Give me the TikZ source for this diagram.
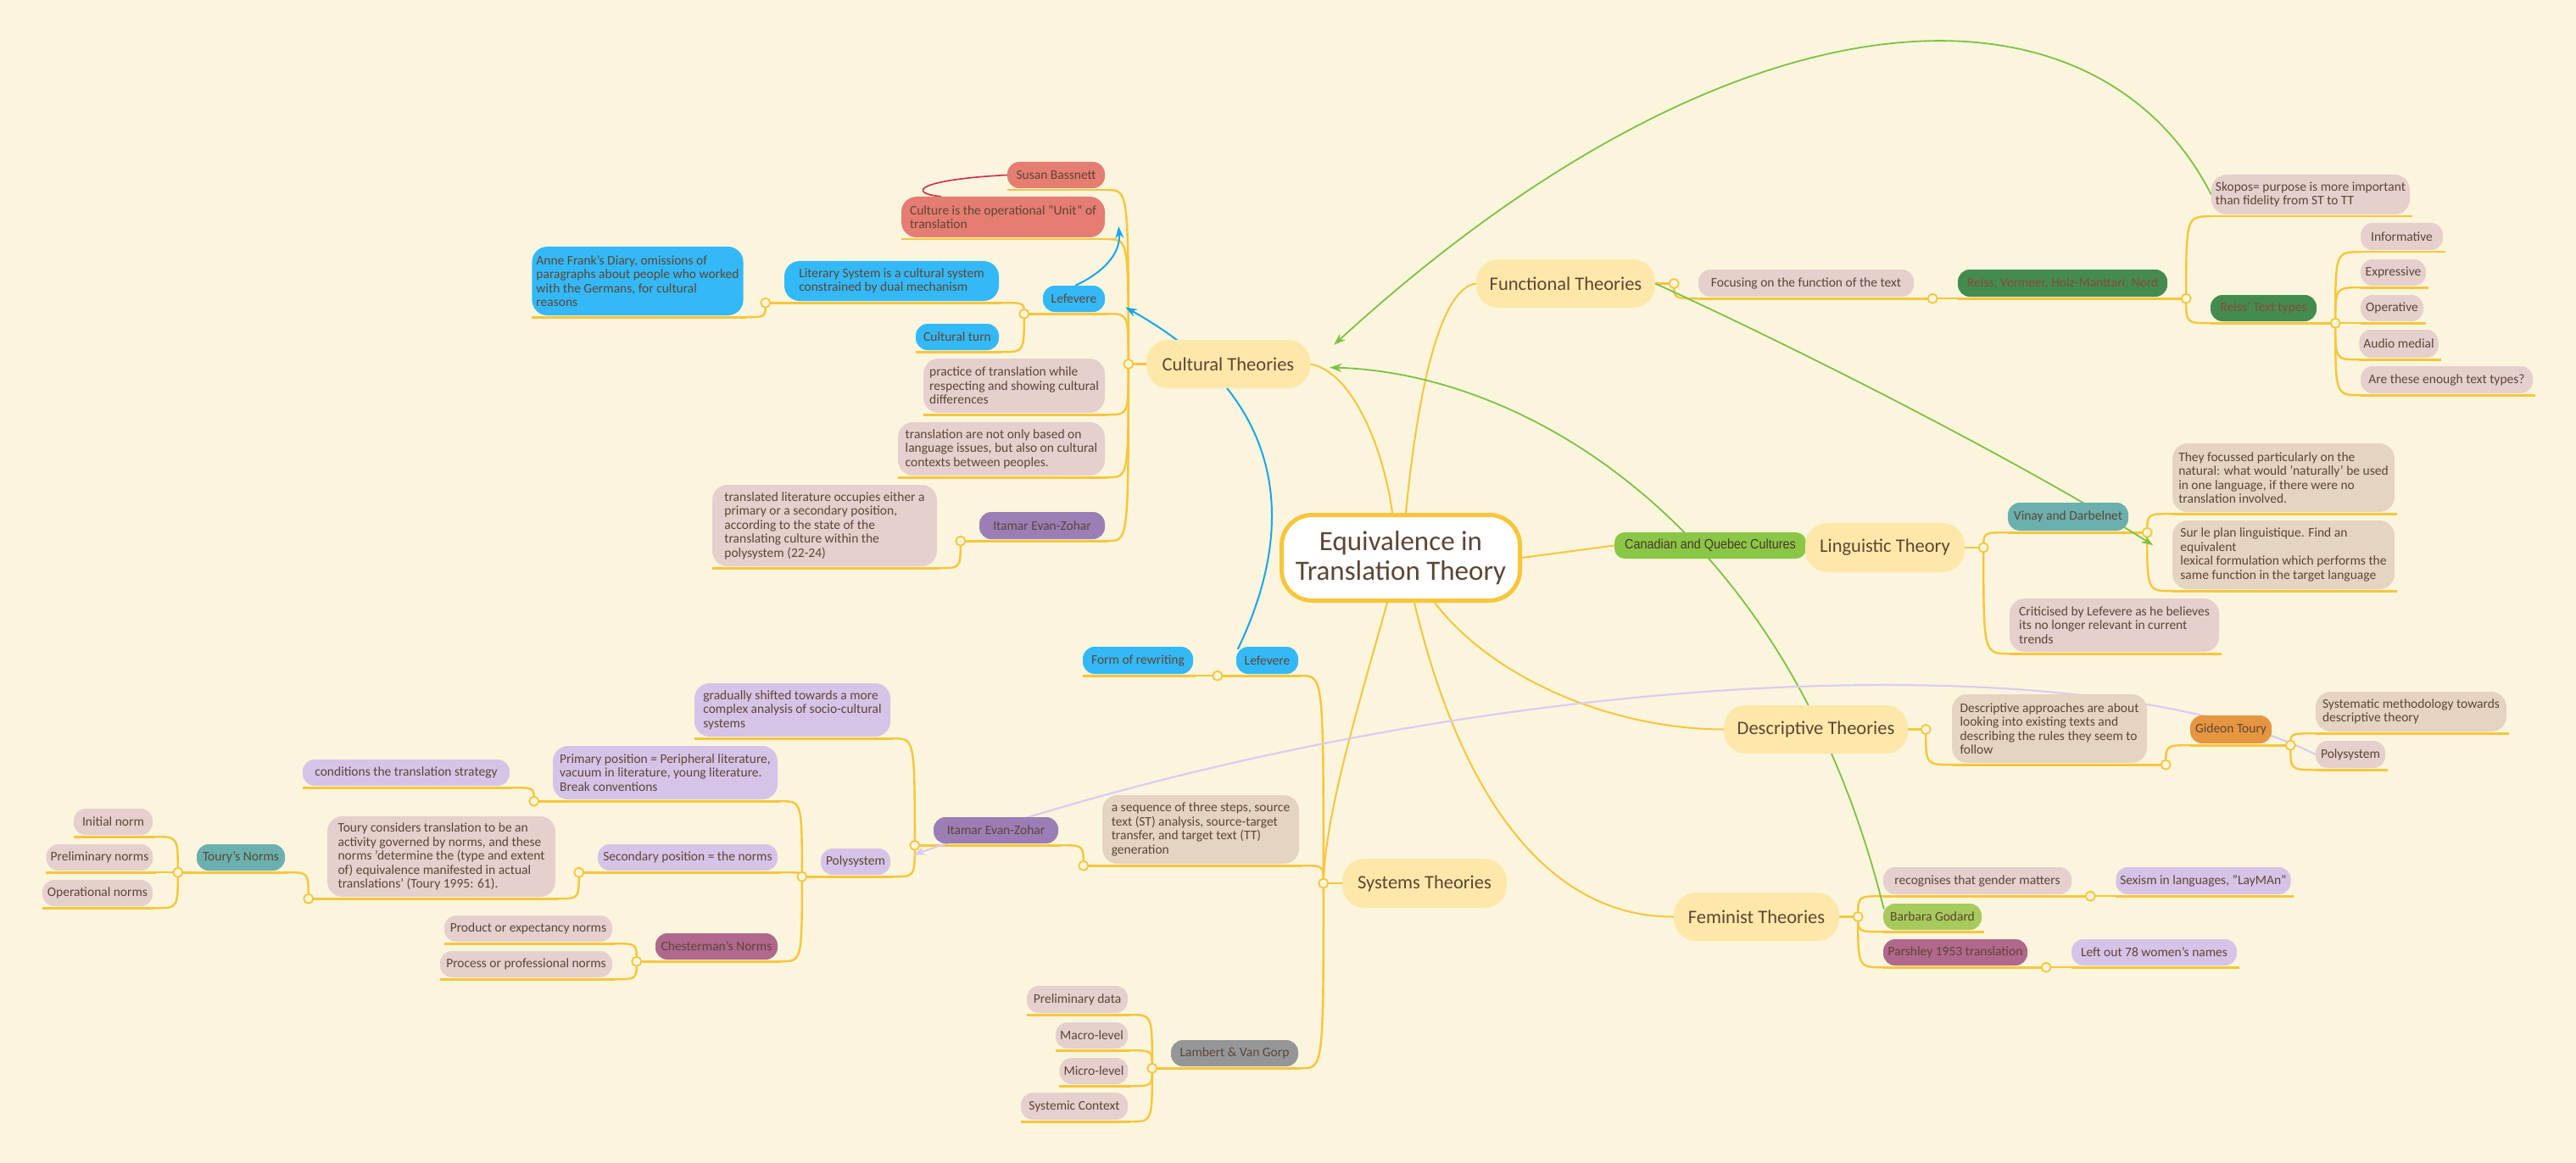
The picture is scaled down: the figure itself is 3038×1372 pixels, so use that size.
\documentclass[tikz,border=0pt]{standalone}
\usepackage{fontspec}
\setmainfont{Carlito}
\newfontfamily\cfont{Liberation Sans}[FakeStretch=0.9]
\usetikzlibrary{calc,arrows.meta}
\definecolor{bgc}{HTML}{FBF5DD}
\definecolor{ora}{HTML}{F9C53A}
\definecolor{mainY}{HTML}{FEE8A9}
\definecolor{pinkS}{HTML}{E5D0CE}
\definecolor{tanS}{HTML}{E5D4C2}
\definecolor{lavS}{HTML}{D6C4E8}
\definecolor{blueS}{HTML}{33B9F7}
\definecolor{purpS}{HTML}{9B7EB6}
\definecolor{salS}{HTML}{E57D72}
\definecolor{dgreen}{HTML}{448B50}
\definecolor{tealS}{HTML}{6AB0AE}
\definecolor{oranS}{HTML}{E69641}
\definecolor{greyS}{HTML}{949799}
\definecolor{mauveS}{HTML}{B0688C}
\definecolor{lgreen}{HTML}{A6CA5C}
\definecolor{cgreen}{HTML}{8BC746}
\definecolor{txtc}{HTML}{5E4534}
\definecolor{redtxt}{HTML}{8A4A3C}
\definecolor{relG}{HTML}{7CC242}
\definecolor{relB}{HTML}{1BA4EA}
\definecolor{relL}{HTML}{DBCCF2}
\definecolor{relR}{HTML}{D3284A}
\pgfdeclarelayer{background}
\pgfdeclarelayer{edges}
\pgfsetlayers{background,edges,main}
\tikzset{
 sub/.style={rectangle, inner xsep=5pt, inner ysep=3pt, font=\fontsize{15.5}{16.5}\selectfont, align=left, text=txtc},
 sbox/.style={sub, fill=#1, rounded corners=14pt},
 mbox/.style={sub, fill=#1, rounded corners=18pt},
 topic/.style={rectangle, fill=mainY, rounded corners=26pt, font=\fontsize{22.5}{26}\selectfont, text=txtc},
 canbox/.style={rectangle, fill=cgreen, rounded corners=12pt, font=\cfont\fontsize{16}{18}\selectfont, text=txtc!80!black},
 hubc/.style={circle, draw=ora, line width=1.8pt, fill=bgc, minimum size=11pt, inner sep=0pt},
 ulin/.style={draw=ora, line width=2.6pt},
 br/.style={draw=ora, line width=2.4pt},
 mainbr/.style={draw=ora, line width=2pt},
 relg/.style={draw=relG, line width=1.8pt, -{Stealth[length=14pt,width=10pt]}},
 relb/.style={draw=relB, line width=2pt, -{Stealth[length=14pt,width=10pt]}},
 rell/.style={draw=relL, line width=2.2pt, -{Stealth[length=14pt,width=10pt]}},
 relr/.style={draw=relR, line width=1.6pt}
}
\newcommand\mmnode[7]{%
 \pgfmathsetmacro\mmW{#4-#2}%
 \pgfmathsetmacro\mmH{#5-#3}%
 \pgfmathsetmacro\mmX{(#2+#4)/2}%
 \pgfmathsetmacro\mmY{(#3+#5)/2}%
 \node[#6, minimum width=\mmW pt, minimum height=\mmH pt] (#1) at (\mmX,\mmY) {#7};
 \coordinate (#1UR) at ($(#1.south east)+(3pt,-2pt)$);
 \coordinate (#1UL) at ($(#1.south west)+(0pt,-2pt)$);
}
\newcommand\mmhubL[1]{\node[hubc] (H#1) at ($(#1.south west)+(-22pt,-2pt)$) {};}
\newcommand\mmhubR[1]{\node[hubc] (H#1) at ($(#1.south east)+(22pt,-2pt)$) {};}
\newcommand\mmul[1]{\draw[ulin] (#1UL) -- (#1UR);}
\newcommand\mmlinkL[1]{\draw[ulin] (H#1.center) -- (#1UL);}
\newcommand\mmlinkR[1]{\draw[ulin] (#1UR) -- (H#1.center);}
\newcommand\brL[2]{\draw[br] (H#1.center) .. controls (H#1.center |- #2UR) .. (#2UR);}
\newcommand\brR[2]{\draw[br] (H#1.center) .. controls (H#1.center |- #2UL) .. (#2UL);}
\begin{document}
\begin{tikzpicture}[x=1pt,y=-1pt]
\begin{pgfonlayer}{background}
\fill[bgc] (0,0) rectangle (3038,1372);
\end{pgfonlayer}
\useasboundingbox (0,0) rectangle (3038,1372);

% central
\node[draw=ora, line width=5pt, fill=white, rounded corners=36pt, minimum width=281pt, minimum height=101pt, font=\fontsize{33}{35}\selectfont, align=center, text=txtc] (ctr) at (1652,658) {Equivalence in\\Translation Theory};

% main topics
\mmnode{cult}{1352}{401}{1545}{458}{topic}{Cultural Theories}
\mmnode{func}{1741}{306}{1952}{363}{topic}{Functional Theories}
\mmnode{canad}{1904}{628}{2130}{659}{canbox}{Canadian and Quebec Cultures}
\mmnode{ling}{2129}{617}{2317}{675}{topic}{Linguistic Theory}
\mmnode{desc}{2033}{832}{2250}{889}{topic}{Descriptive Theories}
\mmnode{fem}{1974}{1053}{2169}{1110}{topic}{Feminist Theories}
\mmnode{sys}{1583}{1013}{1777}{1071}{topic}{Systems Theories}

% cultural
\mmnode{susan}{1188}{191}{1303}{222}{sbox=salS}{Susan Bassnett}
\mmnode{culture}{1063}{232}{1303}{280}{mbox=salS}{Culture is the operational "Unit" of\\translation}
\mmnode{lefU}{1230}{337}{1303}{368}{sbox=blueS}{Lefevere}
\mmnode{literary}{925}{308}{1178}{355}{mbox=blueS}{Literary System is a cultural system\\constrained by dual mechanism}
\mmnode{anne}{630}{291}{874}{372}{mbox=blueS}{Anne Frank's Diary, omissions of\\paragraphs about people who worked\\with the Germans, for cultural\\reasons}
\mmnode{cturn}{1080}{382}{1178}{413}{sbox=blueS}{Cultural turn}
\mmnode{practice}{1089}{423}{1303}{487}{mbox=pinkS}{practice of translation while\\respecting and showing cultural\\differences}
\mmnode{transl}{1059}{498}{1303}{561}{mbox=pinkS}{translation are not only based on\\language issues, but also on cultural\\contexts between peoples.}
\mmnode{itamU}{1155}{604}{1303}{636}{sbox=purpS}{Itamar Evan-Zohar}
\mmnode{translit}{840}{572}{1105}{668}{mbox=pinkS}{translated literature occupies either a\\primary or a secondary position,\\according to the state of the\\translating culture within the\\polysystem (22-24)}

% functional
\mmnode{focus}{2003}{318}{2257}{350}{sbox=pinkS}{Focusing on the function of the text}
\mmnode{reiss}{2309}{318}{2556}{350}{sbox=dgreen, text=redtxt}{Reiss, Vermeer, Holz-Manttari, Nord}
\mmnode{skopos}{2609}{206}{2841}{253}{mbox=pinkS}{Skopos= purpose is more important\\than fidelity from ST to TT}
\mmnode{ttypes}{2607}{348}{2732}{379}{sbox=dgreen, text=redtxt}{Reiss' Text types}
\mmnode{inform}{2784}{263}{2881}{295}{sbox=pinkS}{Informative}
\mmnode{expr}{2784}{306}{2861}{337}{sbox=pinkS}{Expressive}
\mmnode{oper}{2784}{348}{2858}{379}{sbox=pinkS}{Operative}
\mmnode{audio}{2784}{389}{2874}{422}{sbox=pinkS}{Audio medial}
\mmnode{enough}{2784}{432}{2987}{464}{sbox=pinkS}{Are these enough text types?}

% linguistic
\mmnode{vinay}{2368}{593}{2510}{626}{sbox=tealS}{Vinay and Darbelnet}
\mmnode{natural}{2562}{523}{2824}{604}{mbox=tanS}{They focussed particularly on the\\natural: what would 'naturally' be used\\in one language, if there were no\\translation involved.}
\mmnode{surle}{2562}{614}{2824}{695}{mbox=tanS}{Sur le plan linguistique. Find an\\equivalent\\lexical formulation which performs the\\same function in the target language}
\mmnode{critic}{2370}{706}{2617}{769}{mbox=pinkS}{Criticised by Lefevere as he believes\\its no longer relevant in current\\trends}

% descriptive
\mmnode{descap}{2302}{819}{2532}{900}{mbox=tanS}{Descriptive approaches are about\\looking into existing texts and\\describing the rules they seem to\\follow}
\mmnode{gideon}{2583}{844}{2679}{877}{sbox=oranS}{Gideon Toury}
\mmnode{systm}{2731}{816}{2956}{863}{mbox=tanS}{Systematic methodology towards\\descriptive theory}
\mmnode{polyG}{2731}{874}{2813}{906}{sbox=pinkS}{Polysystem}

% feminist
\mmnode{recog}{2221}{1023}{2443}{1055}{sbox=pinkS}{recognises that gender matters}
\mmnode{sexism}{2496}{1023}{2701}{1055}{sbox=lavS}{Sexism in languages, "LayMAn"}
\mmnode{barbara}{2221}{1066}{2337}{1097}{sbox=lgreen}{Barbara Godard}
\mmnode{parsh}{2221}{1108}{2391}{1139}{sbox=mauveS}{Parshley 1953 translation}
\mmnode{leftout}{2443}{1108}{2638}{1139}{sbox=lavS}{Left out 78 women's names}

% systems
\mmnode{lefL}{1458}{763}{1531}{795}{sbox=blueS}{Lefevere}
\mmnode{rewrite}{1277}{763}{1407}{795}{sbox=blueS}{Form of rewriting}
\mmnode{seq}{1300}{938}{1532}{1019}{mbox=tanS}{a sequence of three steps, source\\text (ST) analysis, source-target\\transfer, and target text (TT)\\generation}
\mmnode{itamL}{1101}{964}{1248}{995}{sbox=purpS}{Itamar Evan-Zohar}
\mmnode{gradual}{819}{806}{1050}{869}{mbox=lavS}{gradually shifted towards a more\\complex analysis of socio-cultural\\systems}
\mmnode{polyS}{968}{1001}{1050}{1032}{sbox=lavS}{Polysystem}
\mmnode{primary}{652}{880}{917}{943}{mbox=lavS}{Primary position = Peripheral literature,\\vacuum in literature, young literature.\\Break conventions}
\mmnode{cond}{357}{896}{601}{927}{sbox=lavS}{conditions the translation strategy}
\mmnode{second}{705}{996}{917}{1027}{sbox=lavS}{Secondary position = the norms}
\mmnode{toury}{386}{963}{655}{1058}{mbox=pinkS}{Toury considers translation to be an\\activity governed by norms, and these\\norms 'determine the (type and extent\\of) equivalence manifested in actual\\translations' (Toury 1995: 61).}
\mmnode{tnorms}{232}{996}{336}{1027}{sbox=tealS}{Toury's Norms}
\mmnode{initial}{87}{954}{180}{985}{sbox=pinkS}{Initial norm}
\mmnode{prelim}{55}{996}{180}{1027}{sbox=pinkS}{Preliminary norms}
\mmnode{operat}{50}{1038}{180}{1069}{sbox=pinkS}{Operational norms}
\mmnode{chest}{773}{1101}{917}{1132}{sbox=mauveS}{Chesterman's Norms}
\mmnode{product}{524}{1080}{722}{1111}{sbox=pinkS}{Product or expectancy norms}
\mmnode{process}{519}{1122}{722}{1153}{sbox=pinkS}{Process or professional norms}
\mmnode{lambert}{1381}{1227}{1531}{1258}{sbox=greyS}{Lambert \& Van Gorp}
\mmnode{prdata}{1211}{1163}{1330}{1195}{sbox=pinkS}{Preliminary data}
\mmnode{macro}{1245}{1206}{1330}{1237}{sbox=pinkS}{Macro-level}
\mmnode{micro}{1250}{1248}{1330}{1279}{sbox=pinkS}{Micro-level}
\mmnode{syscon}{1204}{1289}{1330}{1321}{sbox=pinkS}{Systemic Context}

% hubs
\node[hubc] (Hcult) at ($(cult.west)+(-21pt,0)$) {};
\node[hubc] (Hfunc) at ($(func.east)+(22pt,0)$) {};
\node[hubc] (Hling) at ($(ling.east)+(22pt,0)$) {};
\node[hubc] (Hdesc) at ($(desc.east)+(21pt,0)$) {};
\node[hubc] (Hfem) at ($(fem.east)+(22pt,0)$) {};
\node[hubc] (Hsys) at ($(sys.west)+(-22pt,0)$) {};
\mmhubL{lefU}\mmhubL{literary}\mmhubL{itamU}\mmhubL{lefL}\mmhubL{seq}
\mmhubL{itamL}\mmhubL{polyS}\mmhubL{primary}\mmhubL{second}\mmhubL{toury}
\mmhubL{tnorms}\mmhubL{chest}\mmhubL{lambert}
\mmhubR{focus}\mmhubR{reiss}\mmhubR{ttypes}\mmhubR{vinay}\mmhubR{descap}
\mmhubR{gideon}\mmhubR{recog}\mmhubR{parsh}

\begin{pgfonlayer}{edges}
% underlines
\foreach \n in {susan,culture,lefU,literary,anne,cturn,practice,transl,itamU,translit,
  focus,reiss,skopos,ttypes,inform,expr,oper,audio,enough,
  vinay,natural,surle,critic,descap,gideon,systm,polyG,
  recog,sexism,barbara,parsh,leftout,
  lefL,rewrite,seq,itamL,gradual,polyS,primary,cond,second,toury,tnorms,
  initial,prelim,operat,chest,product,process,lambert,prdata,macro,micro,syscon}
  {\mmul{\n}}
% hub links
\foreach \n in {lefU,literary,itamU,lefL,seq,itamL,polyS,primary,second,toury,tnorms,chest,lambert}
  {\mmlinkL{\n}}
\foreach \n in {focus,reiss,ttypes,vinay,descap,gideon,recog,parsh}
  {\mmlinkR{\n}}
\draw[br] (Hcult.center) -- (cult.west);
\draw[br] (func.east) -- (Hfunc.center);
\draw[br] (ling.east) -- (Hling.center);
\draw[br] (desc.east) -- (Hdesc.center);
\draw[br] (fem.east) -- (Hfem.center);
\draw[br] (Hsys.center) -- (sys.west);
% branches left
\brL{cult}{susan}\brL{cult}{culture}\brL{cult}{lefU}\brL{cult}{practice}\brL{cult}{transl}\brL{cult}{itamU}
\brL{lefU}{literary}\brL{lefU}{cturn}
\brL{literary}{anne}
\brL{itamU}{translit}
\brL{sys}{lefL}\brL{sys}{seq}\brL{sys}{lambert}
\brL{lefL}{rewrite}
\brL{seq}{itamL}
\brL{itamL}{gradual}\brL{itamL}{polyS}
\brL{polyS}{primary}\brL{polyS}{second}\brL{polyS}{chest}
\brL{primary}{cond}
\brL{second}{toury}
\brL{toury}{tnorms}
\brL{tnorms}{initial}\brL{tnorms}{prelim}\brL{tnorms}{operat}
\brL{chest}{product}\brL{chest}{process}
\brL{lambert}{prdata}\brL{lambert}{macro}\brL{lambert}{micro}\brL{lambert}{syscon}
% branches right
\brR{func}{focus}
\brR{focus}{reiss}
\brR{reiss}{skopos}\brR{reiss}{ttypes}
\brR{ttypes}{inform}\brR{ttypes}{expr}\brR{ttypes}{oper}\brR{ttypes}{audio}\brR{ttypes}{enough}
\brR{ling}{vinay}\brR{ling}{critic}
\brR{vinay}{natural}\brR{vinay}{surle}
\brR{desc}{descap}
\brR{descap}{gideon}
\brR{gideon}{systm}\brR{gideon}{polyG}
\brR{fem}{recog}\brR{fem}{barbara}\brR{fem}{parsh}
\brR{recog}{sexism}
\brR{parsh}{leftout}
% main branches
\draw[mainbr] ($(ctr.north)+(-10pt,0)$) .. controls (1632,530) and (1595,438) .. (cult.east);
\draw[mainbr] ($(ctr.north)+(6pt,0)$) .. controls (1670,480) and (1695,340) .. (func.west);
\draw[mainbr] (ctr.east) -- (canad.west);
\draw[mainbr] ($(ctr.south)+(40pt,0)$) .. controls (1760,800) and (1900,860) .. (desc.west);
\draw[mainbr] ($(ctr.south)+(16pt,0)$) .. controls (1720,930) and (1820,1082) .. (fem.west);
\draw[mainbr] ($(ctr.south)+(-16pt,0)$) .. controls (1600,840) and (1563,960) .. (Hsys.center);
% relationships
\draw[relg] (skopos.west) .. controls (2470,-40) and (2050,-30) .. ($(cult.north east)+(28pt,-6pt)$);
\draw[relg] (func.east) .. controls (2150,425) and (2400,555) .. ($(vinay.south east)+(29pt,-17pt)$);
\draw[relg] ($(barbara.north west)+(1pt,-7pt)$) .. controls (2110,620) and (1800,440) .. ($(cult.east)+(23pt,-4pt)$);
\draw[rell] (polyG.west) .. controls (2450,750) and (1700,790) .. ($(polyS.east)+(27pt,8pt)$);
\draw[relb] ($(lefL.north west)+(2pt,-3pt)$) .. controls (1530,620) and (1520,470) .. ($(lefU.east)+(24pt,-10pt)$);
\draw[relb] ($(lefU.north east)+(-35pt,0)$) .. controls (1300,322) and (1322,300) .. ($(culture.east)+(16pt,-11pt)$);
\draw[relr] (susan.west) .. controls (1080,212) and (1070,228) .. ($(culture.north west)+(47pt,0)$);
\end{pgfonlayer}
\end{tikzpicture}
\end{document}
